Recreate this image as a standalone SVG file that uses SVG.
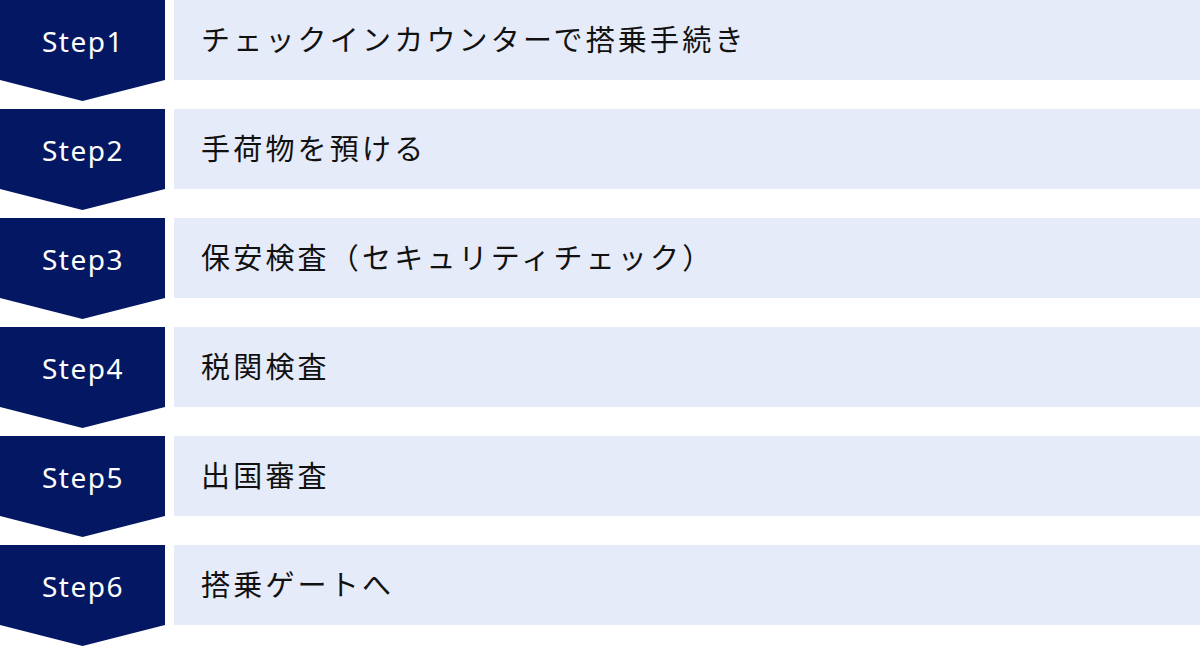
<svg xmlns="http://www.w3.org/2000/svg" width="1200" height="647" viewBox="0 0 1200 647">
<defs>
<style>
.badge{fill:#041762}
.box{fill:#e5ebf8}
.step{fill:#ffffff;font-family:"Noto Sans","DejaVu Sans",sans-serif;font-size:28px;letter-spacing:1.5px;text-anchor:middle}
.label{fill:#111111;font-family:"Noto Sans CJK JP","Noto Sans",sans-serif;font-size:29px;letter-spacing:3.2px}
</style>
<path id="chev" d="M0 0H165V80L82.5 101L0 80Z"/>
</defs>
<rect width="1200" height="647" fill="#ffffff"/>
<g id="connectors"></g>
<g id="step1" transform="translate(0,0)">
<use href="#chev" class="badge"/><rect class="box" x="174" y="0" width="1026" height="80"/>
<text class="step" x="83" y="52">Step1</text><text class="label" x="201" y="51">チェックインカウンターで搭乗手続き</text>
</g>
<g id="step2" transform="translate(0,109)">
<use href="#chev" class="badge"/><rect class="box" x="174" y="0" width="1026" height="80"/>
<text class="step" x="83" y="52">Step2</text><text class="label" x="201" y="51">手荷物を預ける</text>
</g>
<g id="step3" transform="translate(0,218)">
<use href="#chev" class="badge"/><rect class="box" x="174" y="0" width="1026" height="80"/>
<text class="step" x="83" y="52">Step3</text><text class="label" x="201" y="51">保安検査（セキュリティチェック）</text>
</g>
<g id="step4" transform="translate(0,327)">
<use href="#chev" class="badge"/><rect class="box" x="174" y="0" width="1026" height="80"/>
<text class="step" x="83" y="52">Step4</text><text class="label" x="201" y="51">税関検査</text>
</g>
<g id="step5" transform="translate(0,436)">
<use href="#chev" class="badge"/><rect class="box" x="174" y="0" width="1026" height="80"/>
<text class="step" x="83" y="52">Step5</text><text class="label" x="201" y="51">出国審査</text>
</g>
<g id="step6" transform="translate(0,545)">
<use href="#chev" class="badge"/><rect class="box" x="174" y="0" width="1026" height="80"/>
<text class="step" x="83" y="52">Step6</text><text class="label" x="201" y="51">搭乗ゲートへ</text>
</g>
</svg>
